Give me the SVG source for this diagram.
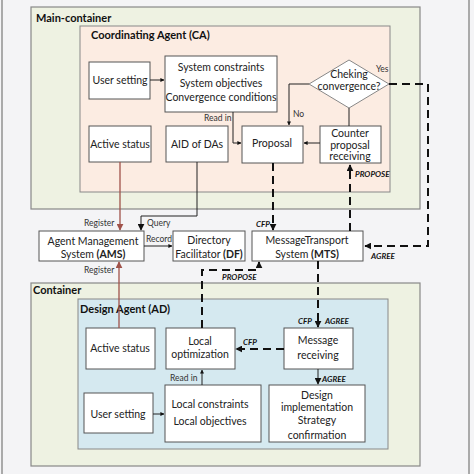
<svg xmlns="http://www.w3.org/2000/svg" width="474" height="474" viewBox="0 0 474 474">
<defs>
<style>
.t{font-family:Lato,"Liberation Sans",sans-serif;font-size:10.5px;fill:#222;text-anchor:middle;dominant-baseline:central}
.lb{font-family:Lato,"Liberation Sans",sans-serif;font-size:11px;font-weight:bold;fill:#111;dominant-baseline:central}
.s{font-family:Lato,"Liberation Sans",sans-serif;font-size:8.5px;fill:#333;dominant-baseline:central}
.m{font-family:Lato,"Liberation Sans",sans-serif;font-size:8px;font-weight:bold;font-style:italic;fill:#111;dominant-baseline:central}
.box{fill:#fff;stroke:#555;stroke-width:1}
.thin{fill:none;stroke:#222;stroke-width:1}
.dash{fill:none;stroke:#111;stroke-width:2;stroke-dasharray:8,5}
.red{fill:none;stroke:#a0524a;stroke-width:1.3}
</style>
<marker id="a" viewBox="0 0 10 10" refX="9" refY="5" markerWidth="4" markerHeight="4" orient="auto" markerUnits="userSpaceOnUse"><path d="M0,0L10,5L0,10z" fill="#111"/></marker>
<marker id="a2" viewBox="0 0 10 10" refX="9" refY="5" markerWidth="7" markerHeight="7" orient="auto" markerUnits="userSpaceOnUse"><path d="M0,0L10,5L0,10z" fill="#111"/></marker>
<marker id="r" viewBox="0 0 10 10" refX="9" refY="5" markerWidth="7" markerHeight="7" orient="auto" markerUnits="userSpaceOnUse"><path d="M0,0L10,5L0,10z" fill="#a0524a"/></marker>
</defs>
<rect x="0" y="0" width="474" height="474" fill="#f4f4f6"/>
<line x1="2" y1="0" x2="2" y2="474" stroke="#aaa" stroke-width="2"/>
<line x1="469" y1="0" x2="469" y2="474" stroke="#aaa" stroke-width="2"/>
<g id="main-container">
<rect x="31" y="7" width="389" height="202" fill="#eef2e2" stroke="#888" stroke-width="1.2"/>
<text class="lb" x="36" y="17">Main-container</text>
</g>
<g id="ca">
<rect x="80" y="26" width="310" height="166" fill="#fcece2" stroke="#888" stroke-width="1"/>
<text class="lb" x="91" y="34">Coordinating Agent  (CA)</text>
</g>
<g id="container">
<rect x="31" y="283" width="389" height="183" fill="#eef2e2" stroke="#888" stroke-width="1.2"/>
<text class="lb" x="33" y="289">Container</text>
</g>
<g id="ad">
<rect x="78" y="299" width="310" height="150" fill="#d5e9f0" stroke="#888" stroke-width="1"/>
<text class="lb" x="80" y="308">Design Agent (AD)</text>
</g>
<g id="ca-user-setting"><rect class="box" x="89" y="62" width="61" height="37"/><text class="t" x="120" y="80">User setting</text></g>
<g id="ca-system"><rect class="box" x="165" y="56" width="112" height="56"/><text class="t" x="221" y="67">System constraints</text><text class="t" x="221" y="83">System objectives</text><text class="t" x="221" y="97">Convergence conditions</text></g>
<g id="checking"><polygon points="349,60 389,84 349,108 309,84" fill="#fff" stroke="#888" stroke-width="1"/><text class="t" x="349" y="74">Cheking</text><text class="t" x="349" y="86">convergence?</text></g>
<g id="ca-active"><rect class="box" x="89" y="126" width="62" height="36"/><text class="t" x="120" y="144">Active status</text></g>
<g id="aid"><rect class="box" x="166" y="126" width="62" height="36"/><text class="t" x="197" y="144">AID of DAs</text></g>
<g id="proposal"><rect class="box" x="242" y="126" width="61" height="37"/><text class="t" x="272" y="143">Proposal</text></g>
<g id="counter"><rect class="box" x="320" y="126" width="61" height="37"/><text class="t" x="350" y="133">Counter</text><text class="t" x="350" y="144.5">proposal</text><text class="t" x="350" y="156">receiving</text></g>
<g id="ams"><rect class="box" x="39" y="231" width="105" height="30"/><text class="t" x="93" y="241">Agent Management</text><text class="t" x="93" y="254">System <tspan font-weight="bold">(AMS)</tspan></text></g>
<g id="df"><rect class="box" x="173" y="231" width="72" height="30"/><text class="t" x="209" y="240">Directory</text><text class="t" x="209" y="254">Facilitator <tspan font-weight="bold">(DF)</tspan></text></g>
<g id="mts"><rect class="box" x="252" y="231" width="111" height="30"/><text class="t" x="307" y="240">MessageTransport</text><text class="t" x="307" y="254">System <tspan font-weight="bold">(MTS)</tspan></text></g>
<g id="ad-active"><rect class="box" x="86" y="328" width="69" height="41"/><text class="t" x="120" y="348">Active status</text></g>
<g id="local-opt"><rect class="box" x="166" y="328" width="69" height="41"/><text class="t" x="200" y="341">Local</text><text class="t" x="200" y="354">optimization</text></g>
<g id="msg-recv"><rect class="box" x="284" y="328" width="69" height="41"/><text class="t" x="318" y="340">Message</text><text class="t" x="318" y="355">receiving</text></g>
<g id="ad-user-setting"><rect class="box" x="84" y="393" width="69" height="40"/><text class="t" x="118" y="414">User setting</text></g>
<g id="local-cons"><rect class="box" x="165" y="385" width="96" height="57"/><text class="t" x="210" y="404">Local constraints</text><text class="t" x="210" y="421">Local objectives</text></g>
<g id="design-impl"><rect class="box" x="269" y="385" width="96" height="57"/><text class="t" x="317" y="395">Design</text><text class="t" x="317" y="407">implementation</text><text class="t" x="317" y="420">Strategy</text><text class="t" x="317" y="435">confirmation</text></g>
<g id="connectors">
<path class="thin" d="M150,80H164" marker-end="url(#a)"/>
<path class="thin" d="M233,112V143H241" marker-end="url(#a)"/>
<text class="s" x="204" y="118">Read in</text>
<path class="thin" stroke="#888" d="M309,84H289V125" marker-end="url(#a)"/>
<text class="s" x="293" y="114">No</text>
<path class="thin" stroke="#888" d="M349,108V126"/>
<path class="thin" d="M320,143H304" marker-end="url(#a)"/>
<text class="s" x="376" y="69">Yes</text>
<path class="dash" d="M389,84H428V246H365" marker-end="url(#a2)"/>
<text class="m" x="371" y="256">AGREE</text>
<path class="dash" d="M273,163V230" marker-end="url(#a2)"/>
<text class="m" x="256" y="224">CFP</text>
<path class="dash" d="M350,231V165" marker-end="url(#a2)"/>
<text class="m" x="355" y="174">PROPOSE</text>
<path class="red" d="M120,162V230" marker-end="url(#r)"/>
<text class="s" x="84" y="223">Register</text>
<path class="thin" stroke-width="1.3" d="M197,162V216H141V230" marker-end="url(#a2)"/>
<text class="s" x="147" y="223">Query</text>
<path class="thin" d="M144,246H172" marker-end="url(#a)"/>
<text class="s" x="146" y="239">Record</text>
<path class="red" d="M119,328V262" marker-end="url(#r)"/>
<text class="s" x="84" y="270">Register</text>
<path class="dash" d="M202,328V270H259V262" marker-end="url(#a2)"/>
<text class="m" x="222" y="277">PROPOSE</text>
<path class="dash" d="M318,261V327" marker-end="url(#a2)"/>
<text class="m" x="298" y="321">CFP</text>
<text class="m" x="325" y="321">AGREE</text>
<path class="dash" d="M284,349H236" marker-end="url(#a2)"/>
<text class="m" x="243" y="342">CFP</text>
<path class="thin" stroke-width="2" d="M318,369V384" marker-end="url(#a2)"/>
<text class="m" x="322" y="379">AGREE</text>
<path class="thin" d="M153,414H164" marker-end="url(#a)"/>
<path class="thin" d="M202,385V370" marker-end="url(#a)"/>
<text class="s" x="170" y="378">Read in</text>
</g>
</svg>
